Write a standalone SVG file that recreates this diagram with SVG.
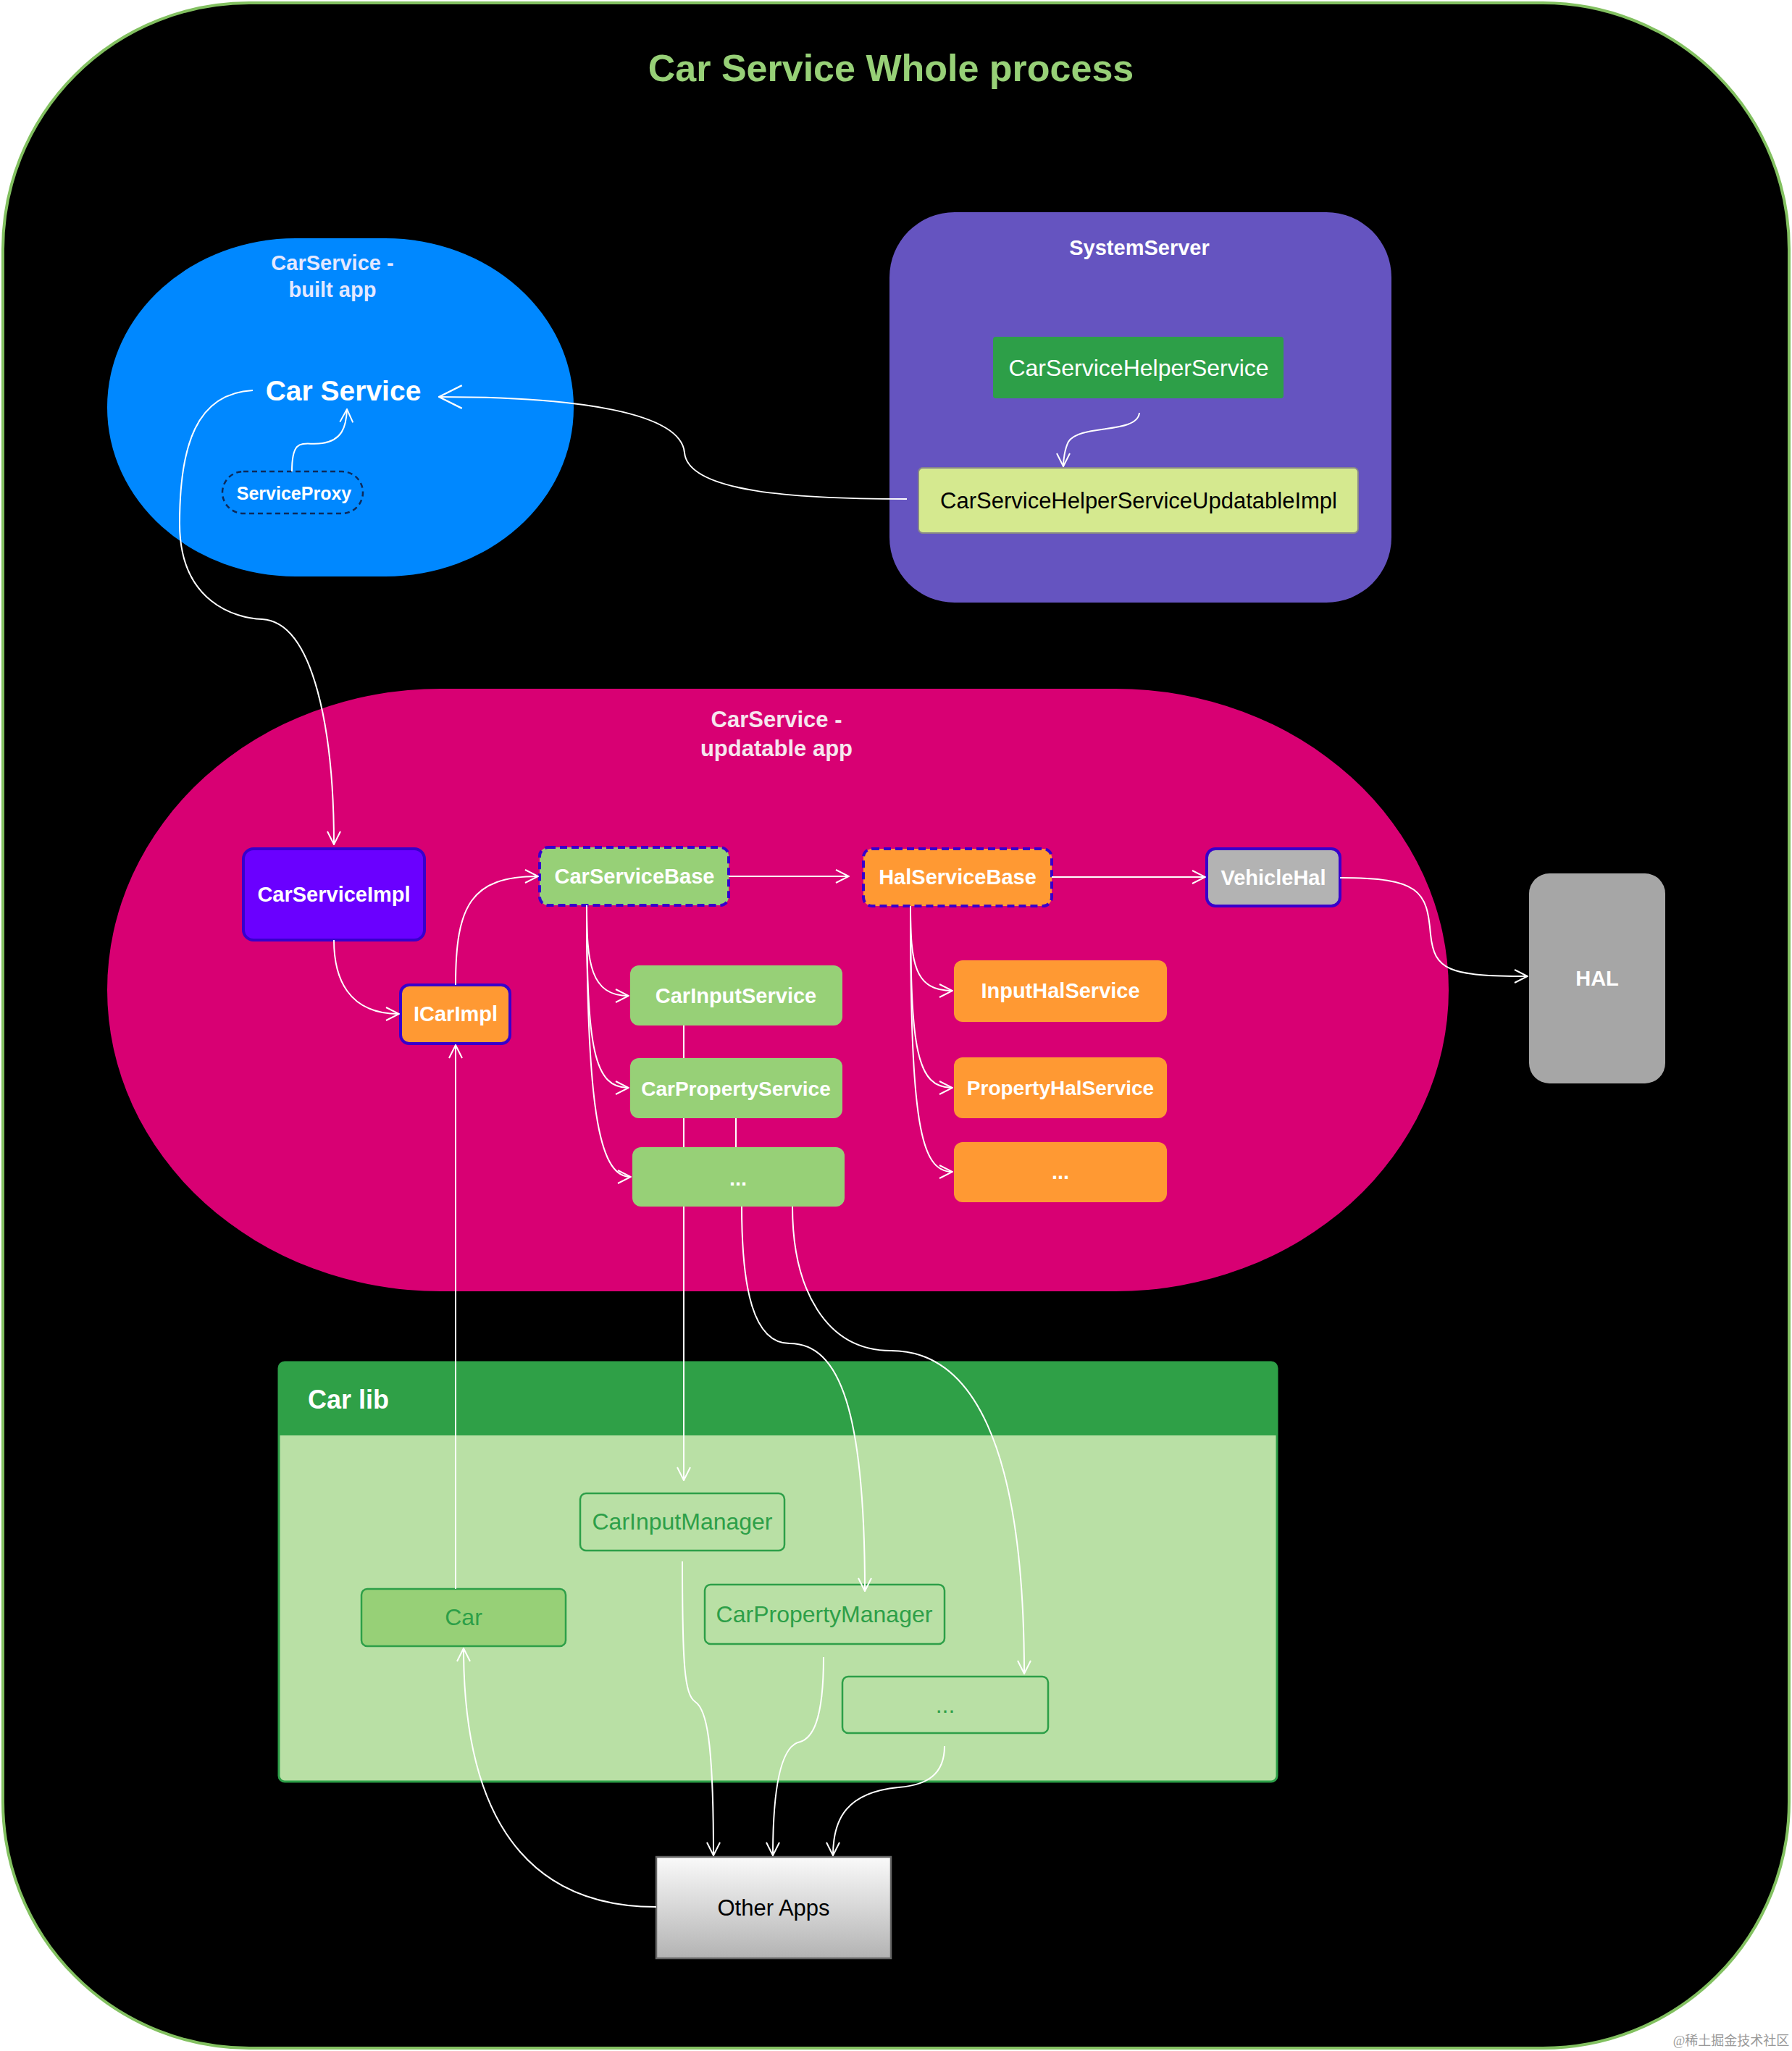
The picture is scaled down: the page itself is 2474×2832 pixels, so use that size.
<svg xmlns="http://www.w3.org/2000/svg" width="2474" height="2832" viewBox="0 0 2474 2832">
<defs>
<marker id="ah" viewBox="0 0 20 20" refX="19" refY="10" markerWidth="20" markerHeight="20" markerUnits="userSpaceOnUse" orient="auto">
<path d="M1,1 L19,10 L1,19" fill="none" stroke="#fff" stroke-width="2"/>
</marker>
<marker id="ahb" viewBox="0 0 30 30" refX="29" refY="15" markerWidth="34" markerHeight="34" markerUnits="userSpaceOnUse" orient="auto">
<path d="M1,1 L29,15 L1,29" fill="none" stroke="#fff" stroke-width="2"/>
</marker>
<linearGradient id="grey" x1="0" y1="0" x2="0" y2="1"><stop offset="0" stop-color="#fafafa"/><stop offset="1" stop-color="#b3b3b3"/></linearGradient>
<style>
text{font-family:"Liberation Sans",Arial,sans-serif;text-anchor:middle;dominant-baseline:central}
.b{font-weight:bold;fill:#fff;font-size:29px}
.c{fill:none;stroke:#fff;stroke-width:2;marker-end:url(#ah)}
.n{fill:none;stroke:#fff;stroke-width:2}
.g{fill:#97D077}
.o{fill:#FF9933}
.lib{fill:none;stroke:#2D9F48;stroke-width:2.5}
.lt{fill:#2D9F48;font-size:32px}
</style>
</defs>
<rect x="4" y="4" width="2466" height="2824" rx="340" fill="#000" stroke="#82C060" stroke-width="4"/>
<text x="1230" y="94" font-size="52" font-weight="bold" fill="#97D077">Car Service Whole process</text>

<g id="builtApp">
<rect x="148" y="329" width="644" height="467" rx="260" ry="233" fill="#0088FF"/>
<text x="459" y="363" font-size="29" font-weight="bold" fill="#E4E8FF">CarService -</text>
<text x="459" y="400" font-size="29" font-weight="bold" fill="#E4E8FF">built app</text>
</g>
<g id="carService"><text x="474" y="539" class="b" style="font-size:39px">Car Service</text></g>
<g id="serviceProxy">
<rect x="307" y="651" width="194" height="58" rx="29" fill="none" stroke="#0D2A5A" stroke-width="2.5" stroke-dasharray="7,5"/>
<text x="406" y="681" class="b" style="font-size:25px">ServiceProxy</text>
</g>

<g id="systemServer">
<rect x="1228" y="293" width="693" height="539" rx="90" fill="#6554C0"/>
<text x="1573" y="342" class="b" style="font-size:29px">SystemServer</text>
</g>
<g id="helper">
<rect x="1371" y="465" width="401" height="85" rx="4" fill="#2D9F48"/>
<text x="1572" y="508" fill="#fff" font-size="32">CarServiceHelperService</text>
</g>
<g id="helperImpl">
<rect x="1268" y="646" width="607" height="90" rx="6" fill="#D5E98F" stroke="#888" stroke-width="2"/>
<text x="1572" y="691" fill="#000" font-size="31">CarServiceHelperServiceUpdatableImpl</text>
</g>

<g id="updatableApp">
<rect x="148" y="951" width="1852" height="832" rx="460" ry="416" fill="#D80073"/>
<text x="1072" y="993" font-size="31" font-weight="bold" fill="#F6E6EE">CarService -</text>
<text x="1072" y="1033" font-size="31" font-weight="bold" fill="#F6E6EE">updatable app</text>
</g>
<g id="carServiceImpl">
<rect x="336" y="1172" width="250" height="126" rx="14" fill="#6A00FF" stroke="#3700CC" stroke-width="4"/>
<text x="461" y="1235" class="b">CarServiceImpl</text>
</g>
<g id="iCarImpl">
<rect x="553" y="1360" width="151" height="81" rx="12" class="o" stroke="#3700CC" stroke-width="4"/>
<text x="629" y="1400" class="b">ICarImpl</text>
</g>
<g id="carServiceBase">
<rect x="745" y="1170" width="261" height="80" rx="12" class="g" stroke="#3700CC" stroke-width="4" stroke-dasharray="10,6"/>
<text x="876" y="1210" class="b">CarServiceBase</text>
</g>
<g id="halServiceBase">
<rect x="1192" y="1172" width="260" height="79" rx="12" class="o" stroke="#3700CC" stroke-width="4" stroke-dasharray="10,6"/>
<text x="1322" y="1211" class="b">HalServiceBase</text>
</g>
<g id="vehicleHal">
<rect x="1666" y="1172" width="184" height="79" rx="12" fill="#B3B3B3" stroke="#3700CC" stroke-width="4"/>
<text x="1758" y="1212" class="b">VehicleHal</text>
</g>
<g id="hal">
<rect x="2111" y="1206" width="188" height="290" rx="28" fill="#A6A6A6"/>
<text x="2205" y="1351" class="b">HAL</text>
</g>
<g id="carInputService"><rect x="870" y="1333" width="293" height="83" rx="12" class="g"/><text x="1016" y="1375" class="b">CarInputService</text></g>
<g id="carPropertyService"><rect x="870" y="1461" width="293" height="83" rx="12" class="g"/><text x="1016" y="1503" class="b" style="font-size:28px">CarPropertyService</text></g>
<g id="moreService"><rect x="873" y="1584" width="293" height="82" rx="12" class="g"/><text x="1019" y="1627" class="b">...</text></g>
<g id="inputHalService"><rect x="1317" y="1326" width="294" height="85" rx="12" class="o"/><text x="1464" y="1368" class="b">InputHalService</text></g>
<g id="propertyHalService"><rect x="1317" y="1460" width="294" height="84" rx="12" class="o"/><text x="1464" y="1502" class="b" style="font-size:28px">PropertyHalService</text></g>
<g id="moreHal"><rect x="1317" y="1577" width="294" height="83" rx="12" class="o"/><text x="1464" y="1618" class="b">...</text></g>

<g id="carLib">
<rect x="385" y="1881" width="1378" height="579" rx="8" fill="#B9E0A5" stroke="#2D9F48" stroke-width="3"/>
<path d="M385,1982 V1889 a8,8 0 0 1 8,-8 H1755 a8,8 0 0 1 8,8 V1982 Z" fill="#2FA047"/>
<text x="425" y="1932" class="b" style="font-size:36px;text-anchor:start">Car lib</text>
</g>
<g id="carInputManager"><rect x="801" y="2062" width="282" height="79" rx="8" class="lib"/><text x="942" y="2101" class="lt">CarInputManager</text></g>
<g id="car"><rect x="499" y="2194" width="282" height="79" rx="8" fill="#97D077" stroke="#2D9F48" stroke-width="2.5"/><text x="640" y="2233" class="lt">Car</text></g>
<g id="carPropertyManager"><rect x="973" y="2188" width="331" height="82" rx="8" class="lib"/><text x="1138" y="2229" class="lt">CarPropertyManager</text></g>
<g id="moreManager"><rect x="1163" y="2315" width="284" height="78" rx="8" class="lib"/><text x="1305" y="2354" class="lt">...</text></g>
<g id="otherApps"><rect x="906" y="2564" width="324" height="140" fill="url(#grey)" stroke="#666" stroke-width="2.5"/><text x="1068" y="2634" fill="#000" font-size="31">Other Apps</text></g>

<g id="connectors">
<path class="n" d="M349,539 C271,543 248,615 248,723 C248,832 326,854 362,855 C434,859 461,1013 461,1166" marker-end="url(#ah)"/>
<path class="n" d="M403,651 C403,600 420,616 445,612 C472,608 478,590 479,565" marker-end="url(#ah)"/>
<path class="n" d="M1252,689 C1100,689 950,680 945,625 C940,570 800,548 606,548" marker-end="url(#ahb)"/>
<path class="c" d="M1573,570 C1570,600 1490,585 1475,610 C1470,620 1468,635 1468,644"/>
<path class="c" d="M461,1298 C461,1350 480,1400 551,1400"/>
<path class="c" d="M629,1360 C629,1250 650,1210 743,1210"/>
<path class="c" d="M629,2194 L629,1443"/>
<path class="c" d="M1006,1210 L1172,1210"/>
<path class="c" d="M1452,1211 L1664,1211"/>
<path class="c" d="M1850,1212 C1960,1212 1970,1230 1975,1290 C1980,1340 2000,1348 2109,1348"/>
<path class="c" d="M810,1250 C810,1330 815,1375 868,1375"/>
<path class="c" d="M810,1250 C810,1450 820,1502 868,1502"/>
<path class="c" d="M810,1250 C810,1550 830,1625 871,1625"/>
<path class="c" d="M1257,1251 C1257,1330 1262,1368 1315,1368"/>
<path class="c" d="M1257,1251 C1257,1450 1265,1502 1315,1502"/>
<path class="c" d="M1257,1251 C1257,1550 1270,1618 1315,1618"/>
<path class="n" d="M944,1416 V1461 M944,1544 V1584 M1016,1544 V1584"/>
<path class="c" d="M944,1666 L944,2044"/>
<path class="c" d="M1024,1666 C1024,1780 1040,1855 1090,1855 C1160,1855 1194,1950 1194,2197"/>
<path class="c" d="M1094,1666 C1094,1780 1140,1865 1230,1865 C1340,1865 1414,1990 1414,2311"/>
<path class="c" d="M906,2633 C760,2633 640,2550 640,2276"/>
<path class="c" d="M942,2156 C942,2300 945,2340 960,2350 C975,2360 985,2400 985,2562"/>
<path class="c" d="M1137,2288 C1137,2380 1120,2400 1105,2405 C1075,2410 1067,2480 1067,2562"/>
<path class="c" d="M1304,2411 C1304,2450 1280,2465 1240,2468 C1170,2475 1150,2510 1150,2562"/>
</g>
<text x="2390" y="2818" font-size="18" fill="#999" style="font-family:'Liberation Serif','Noto Sans CJK SC',serif">@稀土掘金技术社区</text>
</svg>
